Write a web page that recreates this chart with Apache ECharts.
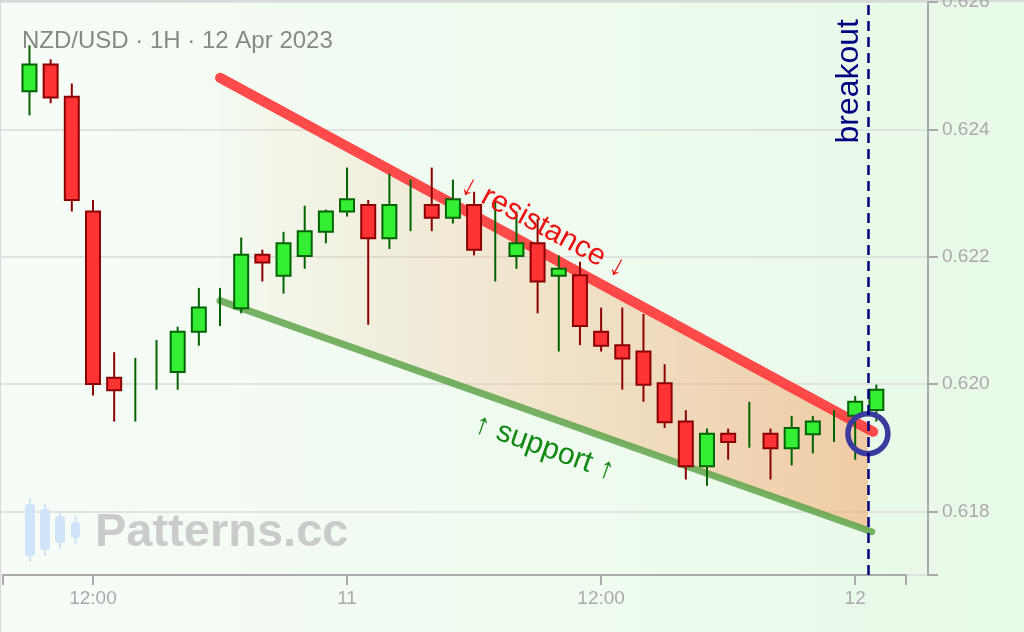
<!DOCTYPE html>
<html>
<head>
<meta charset="utf-8">
<script src="https://cdn.jsdelivr.net/npm/echarts@6/dist/echarts.min.js"></script>
<style>
  html, body { margin: 0; padding: 0; }
  #chart {
    width: 1024px; height: 632px;
    background: linear-gradient(to right, #f7fcf7 0%, #eefbee 60%, #e7f9e7 100%);
    box-shadow: inset 1px 2px 0 #d6dad6;
  }
</style>
</head>
<body>
<div id="chart"></div>
<script>
// ---------- data ----------
const times = [
  '2023-04-10 09:00','2023-04-10 10:00','2023-04-10 11:00','2023-04-10 12:00','2023-04-10 13:00',
  '2023-04-10 14:00','2023-04-10 15:00','2023-04-10 16:00','2023-04-10 17:00','2023-04-10 18:00',
  '2023-04-10 19:00','2023-04-10 20:00','2023-04-10 21:00','2023-04-10 22:00','2023-04-10 23:00',
  '2023-04-11 00:00','2023-04-11 01:00','2023-04-11 02:00','2023-04-11 03:00','2023-04-11 04:00',
  '2023-04-11 05:00','2023-04-11 06:00','2023-04-11 07:00','2023-04-11 08:00','2023-04-11 09:00',
  '2023-04-11 10:00','2023-04-11 11:00','2023-04-11 12:00','2023-04-11 13:00','2023-04-11 14:00',
  '2023-04-11 15:00','2023-04-11 16:00','2023-04-11 17:00','2023-04-11 18:00','2023-04-11 19:00',
  '2023-04-11 20:00','2023-04-11 21:00','2023-04-11 22:00','2023-04-11 23:00','2023-04-12 00:00',
  '2023-04-12 01:00'
];
const opens = [
  0.62460,0.62502,0.62451,0.62271,0.62010,0.62000,0.62030,0.62019,0.62082,0.62120,
  0.62119,0.62203,0.62170,0.62201,0.62239,0.62271,0.62281,0.62229,0.62280,0.62281,
  0.62261,0.62281,0.62210,0.62201,0.62221,0.62170,0.62171,0.62082,0.62061,0.62051,
  0.62001,0.61941,0.61871,0.61922,0.61930,0.61922,0.61899,0.61921,0.61930,0.61950,
  0.61959
];
const closes = [
  0.62502,0.62450,0.62289,0.62000,0.61990,0.62000,0.62030,0.62082,0.62120,0.62120,
  0.62203,0.62191,0.62221,0.62240,0.62271,0.62290,0.62229,0.62281,0.62280,0.62261,
  0.62290,0.62211,0.62210,0.62221,0.62161,0.62181,0.62091,0.62060,0.62040,0.61999,
  0.61940,0.61871,0.61922,0.61909,0.61930,0.61899,0.61931,0.61941,0.61930,0.61972,
  0.61991
];
const lows = [
  0.62422,0.62441,0.62271,0.61982,0.61941,0.61941,0.61991,0.61991,0.62060,0.62091,
  0.62111,0.62161,0.62142,0.62181,0.62221,0.62263,0.62093,0.62212,0.62240,0.62240,
  0.62252,0.62202,0.62161,0.62181,0.62111,0.62051,0.62061,0.62051,0.61991,0.61972,
  0.61931,0.61850,0.61840,0.61881,0.61900,0.61850,0.61872,0.61891,0.61909,0.61881,
  0.61941
];
const highs = [
  0.62532,0.62510,0.62472,0.62289,0.62050,0.62041,0.62069,0.62090,0.62151,0.62151,
  0.62230,0.62211,0.62239,0.62280,0.62274,0.62340,0.62289,0.62330,0.62321,0.62340,
  0.62321,0.62302,0.62289,0.62271,0.62259,0.62202,0.62192,0.62120,0.62120,0.62110,
  0.62031,0.61959,0.61930,0.61930,0.61972,0.61930,0.61950,0.61950,0.61959,0.61981,
  0.61999
];
const resistanceLine = [['2023-04-10 18:00', 0.62481], ['2023-04-12 00:51', 0.61925]];
const supportLine    = [['2023-04-10 18:00', 0.62131], ['2023-04-12 00:47', 0.61768]];
const breakoutTime = '2023-04-12 00:36';
const circlePoint = ['2023-04-12 00:36', 0.61922];
const resistanceLabelAt = ['2023-04-11 09:17', 0.622465];
const supportLabelAt = ['2023-04-11 09:19', 0.61900];
const xRange = ['2023-04-10 07:45', '2023-04-12 02:24'];
const xTickTimes = ['2023-04-10 12:00', '2023-04-11 00:00', '2023-04-11 12:00', '2023-04-12 00:00'];
const xTickLabels = ['12:00', '11', '12:00', '12'];
const yRange = [0.617, 0.626];
const yTickValues = [0.618, 0.620, 0.622, 0.624, 0.626];
const titleText = 'NZD/USD · 1H · 12 Apr 2023';

// ---------- helpers ----------
function toHours(s) {
  const parts = s.split(' ');
  const day = +parts[0].slice(8, 10);
  const hm = parts[1].split(':');
  return (day - 10) * 24 + (+hm[0]) + (+hm[1]) / 60;
}
const FONT = "'Liberation Sans', Arial, sans-serif";
const candleData = times.map((t, i) => [toHours(t), opens[i], closes[i], lows[i], highs[i]]);
const resPts = resistanceLine.map(p => [toHours(p[0]), p[1]]);
const supPts = supportLine.map(p => [toHours(p[0]), p[1]]);
const bx = toHours(breakoutTime);
function lineAt(pts, x) {
  const t = (x - pts[0][0]) / (pts[1][0] - pts[0][0]);
  return pts[0][1] + t * (pts[1][1] - pts[0][1]);
}
const xMin = toHours(xRange[0]), xMax = toHours(xRange[1]);
const xTickVals = xTickTimes.map(toHours);

const chart = echarts.init(document.getElementById('chart'), null, { renderer: 'canvas' });

const axisGray = '#aaaaaa';
const option = {
  animation: false,
  backgroundColor: 'transparent',
  textStyle: { fontFamily: FONT },
  grid: [
    { left: 0, right: 96, top: 2, bottom: 57, containLabel: false, outerBoundsMode: 'none' },
    { left: 3, right: 118, top: 2, bottom: 57, containLabel: false, outerBoundsMode: 'none' }
  ],
  xAxis: [
    { gridIndex: 0, type: 'value', min: xMin, max: xMax, show: false },
    {
      gridIndex: 1, type: 'value', min: xMin, max: xMax, position: 'bottom',
      axisLine: { show: true, onZero: false, lineStyle: { color: axisGray, width: 2 } },
      axisTick: { show: true, length: 10, lineStyle: { color: axisGray, width: 2 },
                  customValues: [xMin].concat(xTickVals, [xMax]) },
      axisLabel: { show: true, customValues: xTickVals, color: axisGray, fontSize: 19, margin: 14,
                   fontFamily: FONT,
                   formatter: v => { const i = xTickVals.findIndex(t => Math.abs(t - v) < 1e-6); return i >= 0 ? xTickLabels[i] : ''; } },
      splitLine: { show: false }
    }
  ],
  yAxis: [
    {
      gridIndex: 0, type: 'value', min: yRange[0], max: yRange[1], position: 'right',
      axisLine: { show: true, lineStyle: { color: axisGray, width: 2 } },
      axisTick: { show: true, length: 10, lineStyle: { color: axisGray, width: 2 },
                  customValues: [yRange[0]].concat(yTickValues) },
      axisLabel: { show: true, customValues: yTickValues, color: axisGray, fontSize: 19, margin: 14,
                   fontFamily: FONT, formatter: v => v.toFixed(3) },
      splitLine: { show: true, lineStyle: { color: '#d9dcd9', width: 1.5 } }
    },
    { gridIndex: 1, type: 'value', min: yRange[0], max: yRange[1], show: false, splitLine: { show: false } }
  ],
  series: [
    {
      name: 'fill', type: 'custom', xAxisIndex: 1, yAxisIndex: 1, z: 1, silent: true,
      data: [[resPts[0][0], lineAt(resPts, resPts[0][0])]],
      renderItem: function (params, api) {
        const x0 = resPts[0][0];
        const a = api.coord([x0, lineAt(resPts, x0)]);
        const b = api.coord([bx, lineAt(resPts, bx)]);
        const c = api.coord([bx, lineAt(supPts, bx)]);
        const d = api.coord([supPts[0][0], lineAt(supPts, supPts[0][0])]);
        return {
          type: 'polygon',
          shape: { points: [a, b, c, d] },
          style: {
            fill: new echarts.graphic.LinearGradient(0, 0, 1, 0, [
              { offset: 0, color: 'rgba(245,170,115,0.02)' },
              { offset: 1, color: 'rgba(245,165,110,0.55)' }
            ])
          }
        };
      }
    },
    {
      name: 'support', type: 'line', xAxisIndex: 1, yAxisIndex: 1, z: 2, silent: true,
      data: supPts, showSymbol: false, symbol: 'none',
      lineStyle: { color: 'rgba(95,165,75,0.85)', width: 7, cap: 'round' }
    },
    {
      name: 'resistance', type: 'line', xAxisIndex: 1, yAxisIndex: 1, z: 2, silent: true,
      data: resPts, showSymbol: false, symbol: 'none',
      lineStyle: { color: 'rgba(255,60,60,0.92)', width: 10, cap: 'round' }
    },
    {
      name: 'candles', type: 'custom', xAxisIndex: 1, yAxisIndex: 1, z: 3,
      data: candleData,
      encode: { x: 0, y: [1, 2, 3, 4] },
      renderItem: function (params, api) {
        const x = api.value(0), o = api.value(1), c = api.value(2), l = api.value(3), h = api.value(4);
        const pO = api.coord([x, o]), pC = api.coord([x, c]);
        const pL = api.coord([x, l]), pH = api.coord([x, h]);
        const w = api.size([1, 0])[0] * 0.66;
        const up = c >= o;
        const stroke = up ? '#006400' : '#8b0000';
        const children = [{
          type: 'line',
          shape: { x1: pH[0], y1: pH[1], x2: pL[0], y2: pL[1] },
          style: { stroke: stroke, lineWidth: 2 }
        }];
        if (o !== c) {
          children.push({
            type: 'rect',
            shape: { x: pO[0] - w / 2, y: Math.min(pO[1], pC[1]), width: w, height: Math.abs(pO[1] - pC[1]) },
            style: { fill: up ? '#33ee33' : '#ff3333', stroke: stroke, lineWidth: 2 }
          });
        }
        return { type: 'group', children: children };
      }
    },
    {
      name: 'breakout', type: 'scatter', xAxisIndex: 1, yAxisIndex: 1, z: 4, silent: true,
      data: [[toHours(circlePoint[0]), circlePoint[1]]],
      symbol: 'circle', symbolSize: 40,
      itemStyle: { color: 'rgba(0,0,0,0)', borderColor: '#3b3b9e', borderWidth: 5.5, opacity: 1 },
      markLine: {
        silent: true, symbol: 'none', animation: false,
        label: { show: false },
        lineStyle: { color: '#000080', width: 2.5, type: [10, 6] },
        data: [{ xAxis: bx }]
      }
    }
  ]
};
chart.setOption(option);

// ---------- annotations ----------
function px(p) { return chart.convertToPixel({ xAxisIndex: 1, yAxisIndex: 1 }, p); }
function angleOf(pts) {
  const a = px(pts[0]), b = px(pts[1]);
  return Math.atan2(b[1] - a[1], b[0] - a[0]);
}
const rl = px([toHours(resistanceLabelAt[0]), resistanceLabelAt[1]]);
const sl = px([toHours(supportLabelAt[0]), supportLabelAt[1]]);
const bpx = px([bx, yRange[1]]);
const rAng = angleOf(resPts), sAng = angleOf(supPts);

const iconColor = '#cfe4f8';
const icon = [
  { x: 30, wt: 498, wb: 562, bt: 504, bb: 556, w: 10 },
  { x: 45, wt: 504, wb: 556, bt: 509, bb: 550, w: 10 },
  { x: 60, wt: 511, wb: 549, bt: 516, bb: 543, w: 10 },
  { x: 75.5, wt: 516, wb: 544, bt: 522, bb: 538, w: 9 }
];
const iconEls = [];
icon.forEach(c => {
  iconEls.push({ type: 'rect', shape: { x: c.x - 1, y: c.wt, width: 2, height: c.wb - c.wt }, style: { fill: iconColor } });
  iconEls.push({ type: 'rect', shape: { x: c.x - c.w / 2, y: c.bt, width: c.w, height: c.bb - c.bt, r: 3 }, style: { fill: iconColor } });
});

chart.setOption({
  graphic: [
    { type: 'group', z: 0, silent: true, children: iconEls },
    { type: 'text', z: 0, silent: true, x: 95, y: 533,
      style: { text: 'Patterns.cc', font: 'bold 47px ' + FONT, fill: '#c9ccc9', textVerticalAlign: 'middle' } },
    { type: 'text', z: 10, silent: true, x: 22, y: 41,
      style: { text: titleText, font: '24px ' + FONT, fill: '#858a85', textVerticalAlign: 'middle' } },
    { type: 'text', z: 10, silent: true, x: bpx[0] - 19, y: 19, rotation: Math.PI / 2,
      style: { text: 'breakout', font: '32px ' + FONT, fill: '#000080', textAlign: 'right', textVerticalAlign: 'middle' } },
    { type: 'text', z: 10, silent: true, x: rl[0], y: rl[1], rotation: -rAng,
      style: { text: '↓ resistance ↓', font: '30px ' + FONT, fill: '#ee1111', textAlign: 'center', textVerticalAlign: 'middle' } },
    { type: 'text', z: 10, silent: true, x: sl[0], y: sl[1], rotation: -sAng,
      style: { text: '↑ support ↑', font: '30px ' + FONT, fill: '#118a11', textAlign: 'center', textVerticalAlign: 'middle' } }
  ]
});
</script>
</body>
</html>
